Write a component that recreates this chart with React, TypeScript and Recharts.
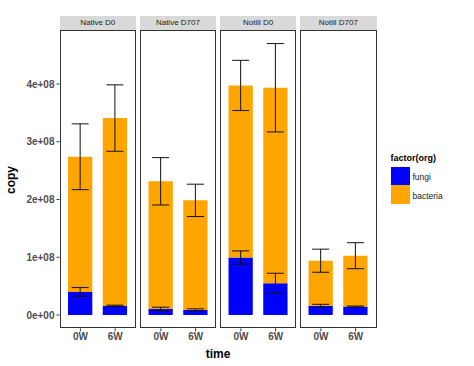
import { BarChart, Bar, XAxis, YAxis, ErrorBar } from 'recharts';

const facets = ['Native D0', 'Native D707', 'Notill D0', 'Notill D707'];
const times = ['0W', '6W'];
// values per facet, in time order (0W, 6W)
const fungi = [4.0e7, 1.6e7, 1.05e7, 0.87e7, 9.95e7, 5.5e7, 1.6e7, 1.45e7];
const fungiErr = [0.075e8, 0.01e8, 0.03e8, 0.02e8, 0.115e8, 0.173e8, 0.025e8, 0.01e8];
const bacteria = [2.34e8, 3.25e8, 2.21e8, 1.898e8, 2.98e8, 3.385e8, 0.78e8, 0.882e8];
const bacteriaErr = [0.57e8, 0.575e8, 0.41e8, 0.28e8, 0.435e8, 0.765e8, 0.2e8, 0.225e8];
const yTicks = [0, 1e8, 2e8, 3e8, 4e8];

const FONT = '"Liberation Sans", Arial, sans-serif';
const PANEL_TOP = 30;
const PANEL_H = 298.3;
const PANEL_W = 76.5;
const PANEL_STEP = 80.2;
const PANEL_LEFT = 59.5;
const X_AXIS_H = 22;
const Y_DOMAIN: [number, number] = [-0.2303e8, 4.935e8];

const sci = (v: number) => {
    if (v === 0) return '0e+00';
    const e = Math.floor(Math.log10(Math.abs(v)));
    const m = v / Math.pow(10, e);
    return `${m}e+${String(e).padStart(2, '0')}`;
};

function Panel({ idx }: { idx: number }) {
    const data = times.map((t, j) => ({
        time: t,
        fungi: fungi[idx * 2 + j],
        fungiErr: fungiErr[idx * 2 + j],
        bacteria: bacteria[idx * 2 + j],
        bacteriaErr: bacteriaErr[idx * 2 + j],
    }));
    const first = idx === 0;
    const left = PANEL_LEFT + idx * PANEL_STEP;
    const chartLeft = first ? 0 : left;
    const width = PANEL_W + (first ? PANEL_LEFT : 0);

    return (
        <>
            <div
                style={{
                    position: 'absolute', left, top: 15.7, width: PANEL_W, height: PANEL_TOP - 15.7,
                    background: '#d9d9d9', color: '#1a1a1a', fontFamily: FONT, fontSize: 8,
                    display: 'flex', alignItems: 'center', justifyContent: 'center',
                }}
            >
                {facets[idx]}
            </div>
            <div style={{ position: 'absolute', left: chartLeft, top: PANEL_TOP }}>
                <BarChart width={width} height={PANEL_H + X_AXIS_H} data={data} margin={{ top: 0, right: 0, bottom: 0, left: 0 }} barGap={0}>
                    <XAxis
                        dataKey="time"
                        height={X_AXIS_H}
                        padding={{ left: 3.5, right: 3.5 }}
                        axisLine={false}
                        tickLine={{ stroke: '#333333' }}
                        tickSize={3}
                        tick={{ fill: '#4d4d4d', fontSize: 10, fontWeight: 'bold', fontFamily: FONT }}
                    />
                    <YAxis
                        hide={!first}
                        width={PANEL_LEFT}
                        type="number"
                        domain={Y_DOMAIN}
                        allowDataOverflow
                        ticks={yTicks}
                        tickFormatter={sci}
                        axisLine={false}
                        tickLine={{ stroke: '#333333' }}
                        tickSize={3}
                        tick={{ fill: '#4d4d4d', fontSize: 10, fontWeight: 'bold', fontFamily: FONT }}
                    />
                    <Bar dataKey="fungi" stackId="a" fill="#0000FF" barSize={24.3} isAnimationActive={false}>
                        <ErrorBar dataKey="fungiErr" width={8.5} stroke="#111111" strokeWidth={1} />
                    </Bar>
                    <Bar dataKey="bacteria" stackId="a" fill="#FFA500" barSize={24.3} isAnimationActive={false}>
                        <ErrorBar dataKey="bacteriaErr" width={8.5} stroke="#111111" strokeWidth={1} />
                    </Bar>
                </BarChart>
            </div>
            <div
                style={{
                    position: 'absolute', left, top: PANEL_TOP, width: PANEL_W, height: PANEL_H,
                    border: '1px solid #333333', boxSizing: 'border-box', pointerEvents: 'none',
                }}
            />
        </>
    );
}

export default function App() {
    return (
        <div style={{ position: 'absolute', left: 0, top: 0, width: 474, height: 366, background: '#ffffff', fontFamily: FONT }}>
            {facets.map((f, i) => (
                <Panel key={f} idx={i} />
            ))}
            <div
                style={{
                    position: 'absolute', left: 11, top: 180, transform: 'translate(-50%, -50%) rotate(-90deg)',
                    fontSize: 12, fontWeight: 'bold', color: '#000',
                }}
            >
                copy
            </div>
            <div
                style={{
                    position: 'absolute', left: 218, top: 354, transform: 'translate(-50%, -50%)',
                    fontSize: 12, fontWeight: 'bold', color: '#000',
                }}
            >
                time
            </div>
            <div style={{ position: 'absolute', left: 390.5, top: 153, fontSize: 9, fontWeight: 'bold', color: '#000' }}>factor(org)</div>
            <div style={{ position: 'absolute', left: 390.5, top: 166.5, width: 19.5, height: 18.7, background: '#0000FF' }} />
            <div style={{ position: 'absolute', left: 390.5, top: 185.2, width: 19.5, height: 18.7, background: '#FFA500' }} />
            <div style={{ position: 'absolute', left: 412.5, top: 171.5, fontSize: 8.5, color: '#1a1a1a' }}>fungi</div>
            <div style={{ position: 'absolute', left: 412.5, top: 190.5, fontSize: 8.5, color: '#1a1a1a' }}>bacteria</div>
        </div>
    );
}
